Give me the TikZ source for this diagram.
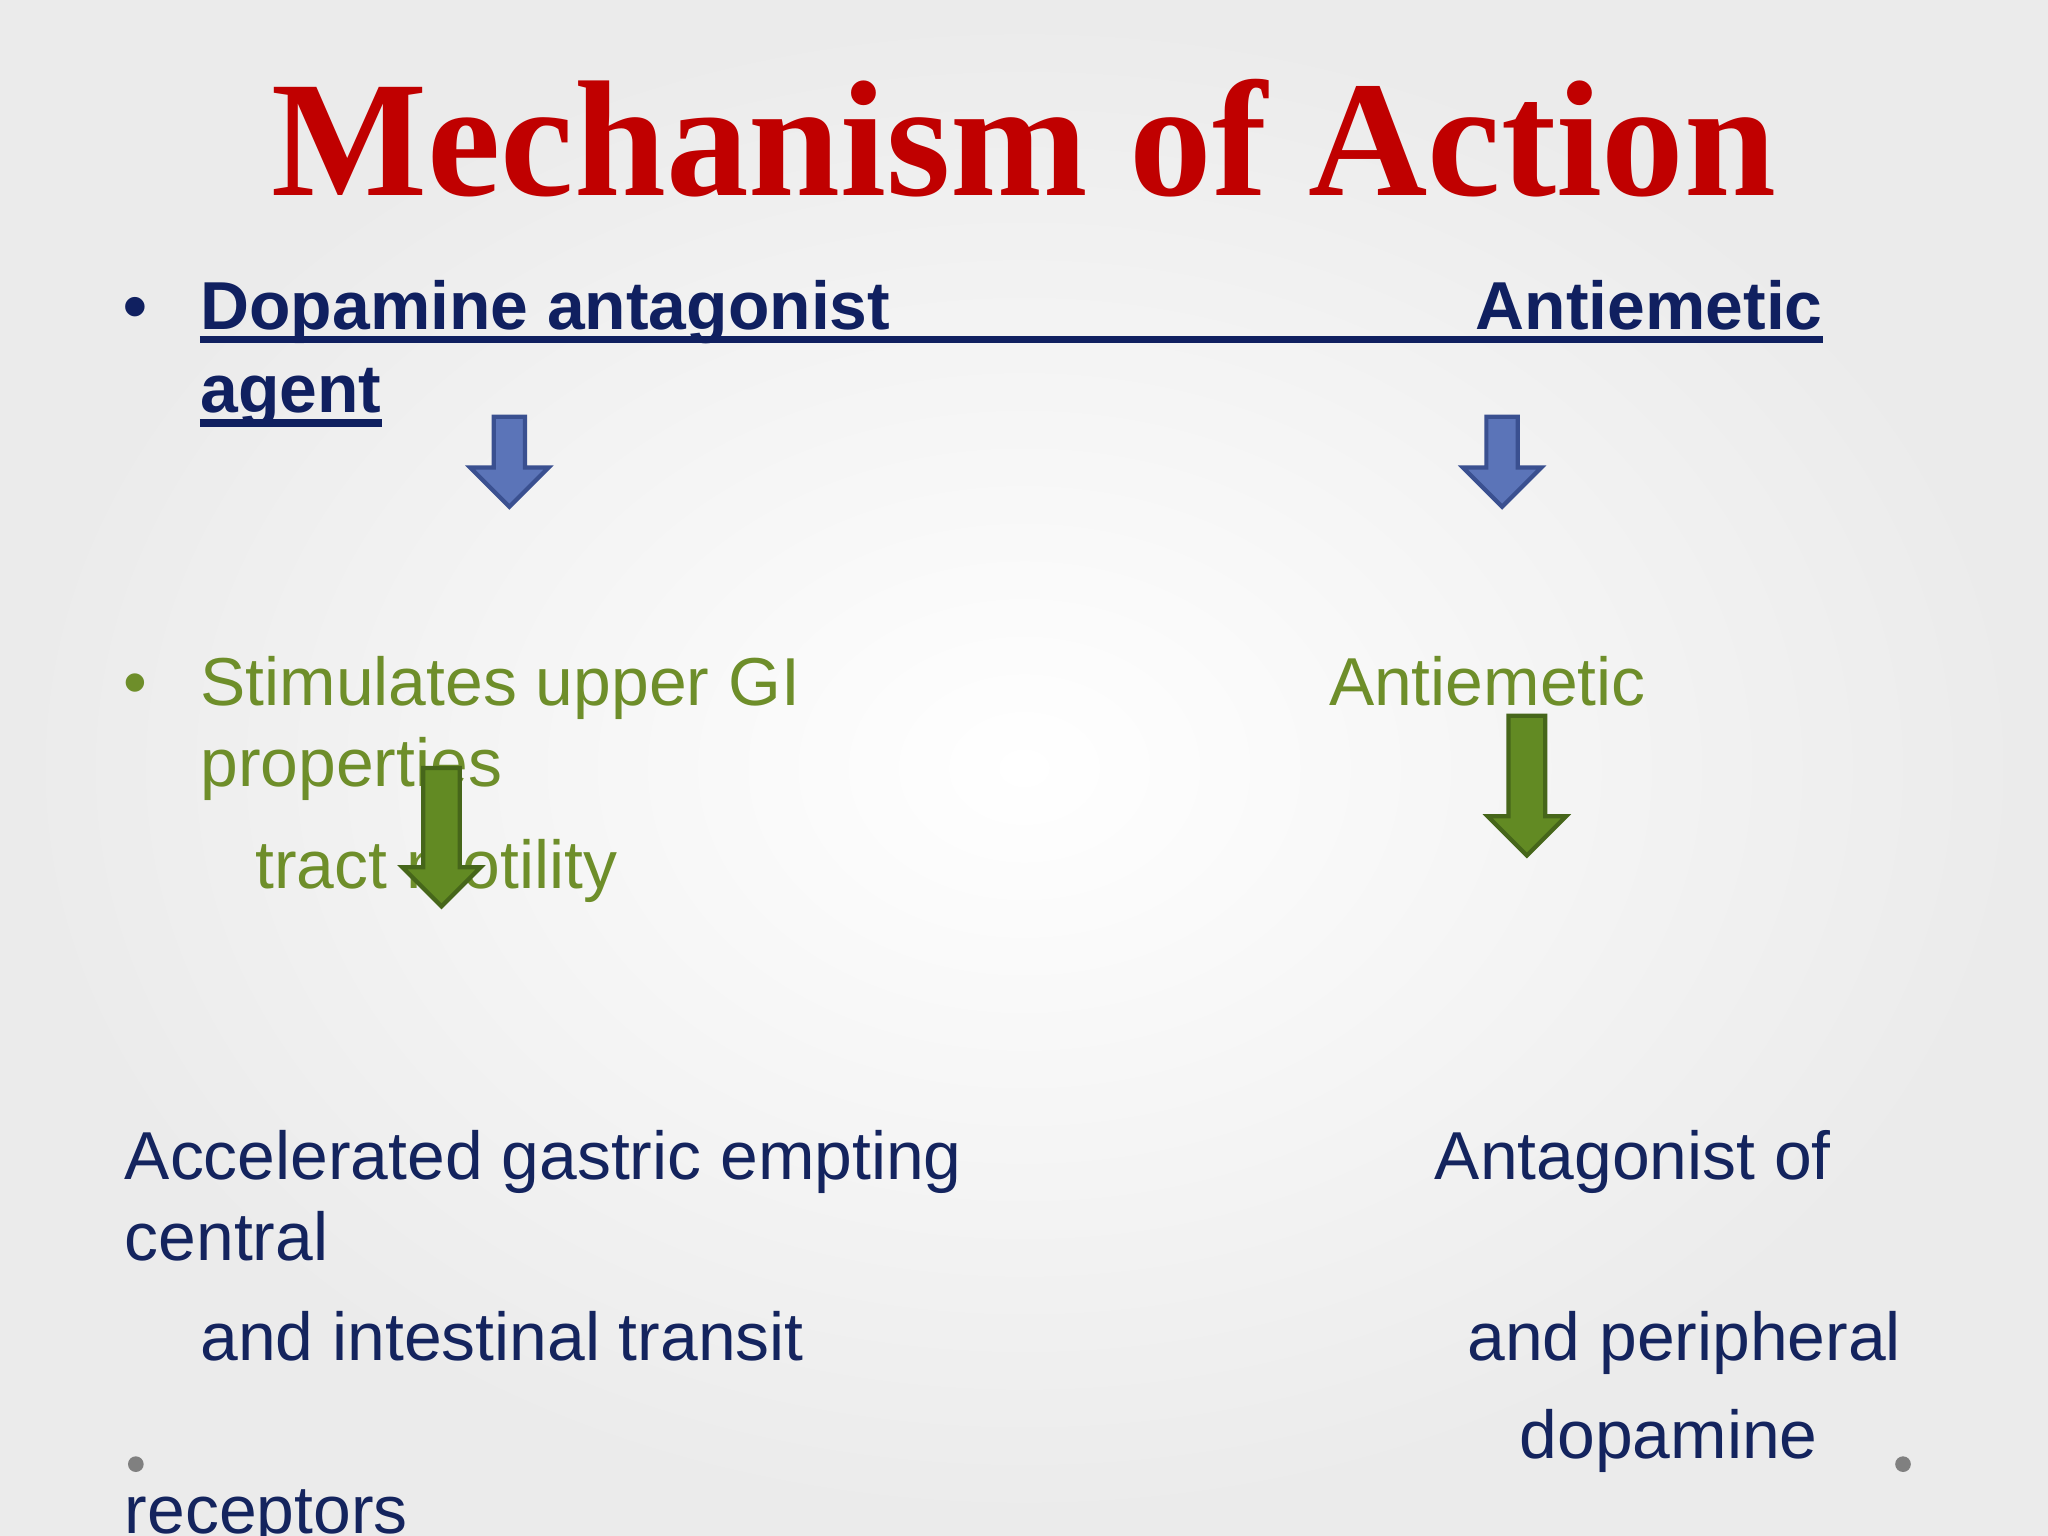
\documentclass[tikz,border=0pt]{standalone}
\usepackage{fontspec}
\setmainfont{Liberation Sans}
\newfontfamily\titlefont{Liberation Serif}
\definecolor{navy}{HTML}{14245E}
\definecolor{hdr}{HTML}{102060}
\definecolor{grn}{HTML}{6E8E2A}
\definecolor{ttl}{HTML}{C00000}
\definecolor{barrow}{HTML}{5B74B8}
\definecolor{barrowd}{HTML}{3A5090}
\definecolor{garrow}{HTML}{628A23}
\definecolor{garrowd}{HTML}{46661A}
\begin{document}
\begin{tikzpicture}[x=0.01306cm,y=-0.01306cm,
  txt/.style={anchor=base west,inner sep=0pt,font=\fontsize{19.3}{23}\selectfont},
  body/.style={txt,text=navy},
  green/.style={txt,text=grn},
  head/.style={txt,text=hdr,font=\fontsize{19.3}{23}\selectfont\bfseries}]
\useasboundingbox (0,0) rectangle (1568,1176);
\shade[inner color=white,outer color=black!8] (0,0) rectangle (1568,1176);
\node[anchor=base,inner sep=0pt,text=ttl,font=\fontsize{47}{50}\selectfont\titlefont\bfseries] (title) at (784,150) {Mechanism of Action};
\node[head] (b1) at (94,252) {•};
\node[head] (h1) at (153,252) {Dopamine antagonist};
\node[head,anchor=base east] (h2) at (1396,252) {Antiemetic};
\node[head] (h3) at (153,316) {agent};
\draw[hdr,line width=2.2pt] (h1.base west |- 0,260) -- (h2.base east |- 0,260);
\draw[hdr,line width=2.2pt] (h3.base west |- 0,324) -- (h3.base east |- 0,324);
\node[green] (s1) at (94,540) {•};
\node[green] (s2) at (153,540) {Stimulates upper GI};
\node[green] (s3) at (153,602) {properties};
\node[green] (s4) at (195,680) {tract motility};
\node[green] (s5) at (1017,540) {Antiemetic};
\filldraw[fill=barrow,draw=barrowd,line width=1.2pt] (378,319) -- (402,319) -- (402,358) -- (420,358) -- (390,388) -- (360,358) -- (378,358) -- cycle;
\filldraw[fill=barrow,draw=barrowd,line width=1.2pt] (1138,319) -- (1162,319) -- (1162,358) -- (1180,358) -- (1150,388) -- (1120,358) -- (1138,358) -- cycle;
\filldraw[fill=garrow,draw=garrowd,line width=1.2pt] (324,588) -- (352,588) -- (352,664) -- (368,664) -- (338,694) -- (308,664) -- (324,664) -- cycle;
\filldraw[fill=garrow,draw=garrowd,line width=1.2pt] (1155,548) -- (1183,548) -- (1183,625) -- (1199,625) -- (1169,655) -- (1139,625) -- (1155,625) -- cycle;
\node[body] (a1) at (95,903) {Accelerated gastric empting};
\node[body] (a2) at (95,965) {central};
\node[body] (a3) at (153,1042) {and intestinal transit};
\node[body] (a4) at (95,1174) {receptors};
\node[body] (r1) at (1098,903) {Antagonist of};
\node[body] (r2) at (1123,1042) {and peripheral};
\node[body] (r3) at (1163,1117) {dopamine};
\fill[gray] (104,1121) circle (6);
\fill[gray] (1457,1121) circle (6);
\end{tikzpicture}
\end{document}
